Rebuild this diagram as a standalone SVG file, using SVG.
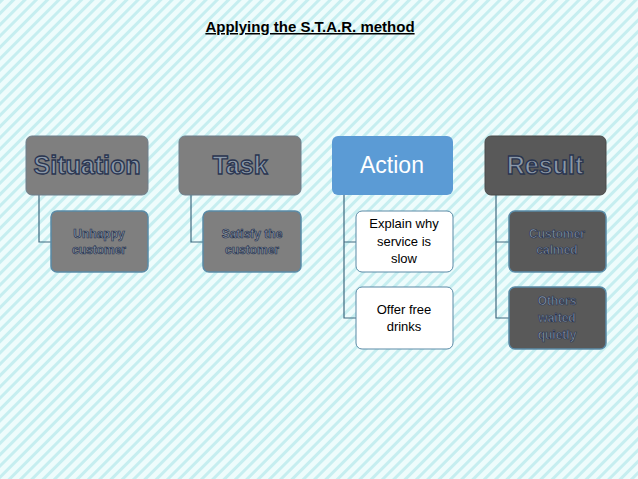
<svg xmlns="http://www.w3.org/2000/svg" width="638" height="479" viewBox="0 0 638 479">
<defs>
<pattern id="bg" width="8" height="8" patternUnits="userSpaceOnUse" patternTransform="rotate(45)">
<rect width="8" height="8" fill="#eefcfc"/><rect width="3" height="8" fill="#c6eef0"/>
</pattern>
</defs>
<style>
text{font-family:"Liberation Sans",Arial,sans-serif;text-anchor:middle}
.hd{fill:#7f7f7f;stroke:#6e7f8c;stroke-width:1}
.ch{fill:#7f7f7f;stroke:#5a8aa6;stroke-width:1.5}
.dk{fill:#595959;stroke:#4a4a4a;stroke-width:1}
.dch{fill:#595959;stroke:#5a8aa6;stroke-width:1.5}
.wt{fill:#fff;stroke:#5a8aa6;stroke-width:1}
.big{font-size:25px;font-weight:bold;fill:#8a98a8;stroke:#2a3550;stroke-width:1.3}
.sm{font-size:12px;font-weight:bold;fill:#8a98a8;stroke:#2a3550;stroke-width:0.7}
.wsm{font-size:13px;fill:#000}
.conn{fill:none;stroke:#3f6a80;stroke-width:1.2}
</style>
<rect width="638" height="479" fill="url(#bg)"/>
<text x="310" y="32" style="font-size:15px;font-weight:bold" text-decoration="underline">Applying the S.T.A.R. method</text>
<g id="connectors">
<path class="conn" d="M39 195V242H51"/>
<path class="conn" d="M191 195V242H203"/>
<path class="conn" d="M344 195V242H356M344 242V318H356"/>
<path class="conn" d="M496 195V242H509M496 242V318H509"/>
</g>
<g id="situation"><rect class="hd" x="26" y="136" width="122" height="59" rx="6"/><text class="big" x="87" y="174">Situation</text></g>
<g id="task"><rect class="hd" x="179" y="136" width="122" height="59" rx="6"/><text class="big" x="240" y="174">Task</text></g>
<g id="action"><rect x="332" y="136" width="121" height="59" rx="6" fill="#5b9bd5"/><text x="392" y="173" style="font-size:23px;fill:#fff">Action</text></g>
<g id="result"><rect class="dk" x="485" y="136" width="121" height="59" rx="6"/><text class="big" x="545" y="174">Result</text></g>
<g id="unhappy"><rect class="ch" x="51" y="211" width="97" height="61" rx="6"/><text class="sm" x="99" y="238">Unhappy</text><text class="sm" x="99" y="254">customer</text></g>
<g id="satisfy"><rect class="ch" x="203" y="211" width="98" height="61" rx="6"/><text class="sm" x="252" y="238">Satisfy the</text><text class="sm" x="252" y="254">customer</text></g>
<g id="explain"><rect class="wt" x="356" y="211" width="97" height="61" rx="6"/><text class="wsm" x="404" y="228">Explain why</text><text class="wsm" x="404" y="246">service is</text><text class="wsm" x="404" y="263">slow</text></g>
<g id="offer"><rect class="wt" x="356" y="287" width="97" height="62" rx="6"/><text class="wsm" x="404" y="314">Offer free</text><text class="wsm" x="404" y="331">drinks</text></g>
<g id="calmed"><rect class="dch" x="509" y="211" width="97" height="61" rx="6"/><text class="sm" x="557" y="238">Customer</text><text class="sm" x="557" y="254">calmed</text></g>
<g id="others"><rect class="dch" x="509" y="287" width="97" height="62" rx="6"/><text class="sm" x="557" y="305">Others</text><text class="sm" x="557" y="322">waited</text><text class="sm" x="557" y="339">quietly</text></g>
</svg>
